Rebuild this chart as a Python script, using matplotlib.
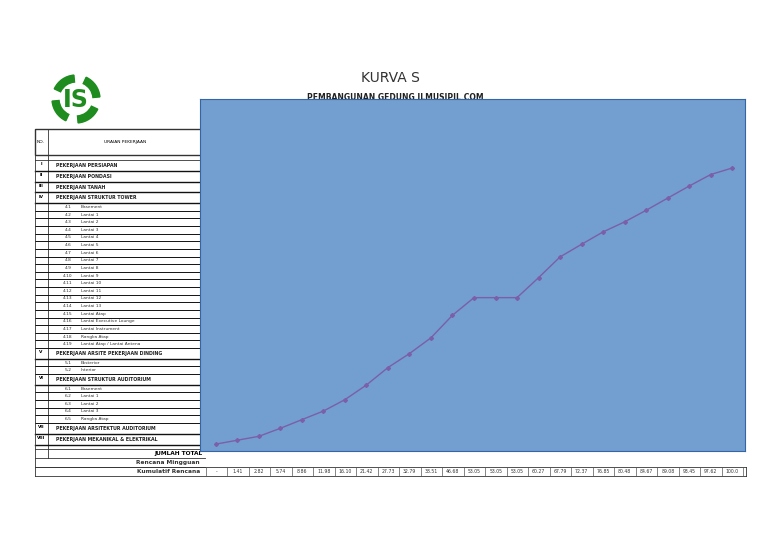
import matplotlib
matplotlib.use("Agg")
import matplotlib.pyplot as plt
from matplotlib.patches import Wedge, Rectangle

kumulatif = [0, 1.41, 2.82, 5.74, 8.86, 11.98, 16.10, 21.42, 27.73, 32.79, 38.51, 46.68,
             53.05, 53.05, 53.05, 60.27, 67.79, 72.37, 76.85, 80.48, 84.67, 89.08, 93.45, 97.62, 100.0]
kum_labels = ["-", "1.41", "2.82", "5.74", "8.86", "11.98", "16.10", "21.42", "27.73", "32.79", "38.51",
              "46.68", "53.05", "53.05", "53.05", "60.27", "67.79", "72.37", "76.85", "80.48", "84.67",
              "89.08", "93.45", "97.62", "100.0"]
rows = [("I", "PEKERJAAN PERSIAPAN", 1), ("II", "PEKERJAAN PONDASI", 1), ("III", "PEKERJAAN TANAH", 1),
        ("IV", "PEKERJAAN STRUKTUR TOWER", 1)]
sub4 = ["Basement", "Lantai 1", "Lantai 2", "Lantai 3", "Lantai 4", "Lantai 5", "Lantai 6", "Lantai 7",
        "Lantai 8", "Lantai 9", "Lantai 10", "Lantai 11", "Lantai 12", "Lantai 13", "Lantai Atap",
        "Lantai Executive Lounge", "Lantai Instrument", "Rangka Atap", "Lantai Atap / Lantai Antena"]
rows += [("4.%d" % (i + 1), s, 0) for i, s in enumerate(sub4)]
rows += [("V", "PEKERJAAN ARSITE PEKERJAAN DINDING", 1), ("5.1", "Eksterior", 0), ("5.2", "Interior", 0),
         ("VI", "PEKERJAAN STRUKTUR AUDITORIUM", 1)]
sub6 = ["Basement", "Lantai 1", "Lantai 2", "Lantai 3", "Rangka Atap"]
rows += [("6.%d" % (i + 1), s, 0) for i, s in enumerate(sub6)]
rows += [("VII", "PEKERJAAN ARSITEKTUR AUDITORIUM", 1), ("VIII", "PEKERJAAN MEKANIKAL & ELEKTRIKAL", 1)]

fig = plt.figure(figsize=(7.68, 5.43), dpi=100)
bg = fig.add_axes([0, 0, 1, 1])
bg.set_xlim(0, 768); bg.set_ylim(543, 0); bg.axis("off")

bg.text(390, 78, "KURVA S", ha="center", va="center", fontsize=10, color="#333")
bg.text(395, 98, "PEMBANGUNAN GEDUNG ILMUSIPIL.COM", ha="center", va="center", fontsize=5.5,
        fontweight="bold", color="#222")

# logo
for a in [25, 115, 205, 295]:
    bg.add_patch(Wedge((76, 99), 24, a, a + 60, width=7, color="#1e8c1e"))
bg.text(76, 100, "IS", ha="center", va="center", fontsize=17, fontweight="bold", color="#1e8c1e")

L, C, R = 35, 48, 205
lw = 0.6
bg.add_patch(Rectangle((L, 129), R - L, 26, fill=False, lw=1, ec="#333"))
bg.plot([C, C], [129, 458], color="#333", lw=lw)
bg.text(41, 142, "NO.", fontsize=3.2, ha="center", va="center")
bg.text(125, 142, "URAIAN PEKERJAAN", fontsize=3.2, ha="center", va="center")
y = 160
bg.plot([L, R], [y, y], color="#333", lw=lw)
for no, name, main in rows:
    h = 10.8 if main else 7.62
    y0 = y
    y = y0 + h
    bg.plot([L, R], [y, y], color="#111", lw=1.0 if main else 0.7)
    yc = (y0 + y) / 2
    if main:
        bg.text(41, yc - 1, no, fontsize=3.2, ha="center", va="center", fontweight="bold")
        bg.text(56, yc, name, fontsize=3.4, va="center", fontweight="bold", color="#222")
    else:
        bg.text(68, yc, no, fontsize=3.2, ha="center", va="center", color="#333")
        bg.text(81, yc, name, fontsize=3.2, va="center", color="#333")
for yy in [449, 458, 467]:
    bg.plot([L, R], [yy, yy], color="#333", lw=lw)
bg.text(202, 453.5, "JUMLAH TOTAL", fontsize=4.2, ha="right", va="center", fontweight="bold")
bg.plot([L, L], [129, 476], color="#333", lw=lw)
bg.text(200, 462.5, "Rencana Mingguan", fontsize=4.2, ha="right", va="center", fontweight="bold", color="#333")
bg.text(200, 471.5, "Kumulatif Rencana", fontsize=4.2, ha="right", va="center", fontweight="bold", color="#333")
x0, w = 205.5, 21.5
bg.plot([L, 746], [467, 467], color="#333", lw=lw)
bg.plot([L, 746], [476, 476], color="#333", lw=lw)
for i, lab in enumerate(kum_labels):
    bg.plot([x0 + i * w] * 2, [467, 476], color="#555", lw=0.5)
    bg.text(x0 + i * w + w / 2, 471.5, lab, fontsize=3.3, ha="center", va="center", color="#333")
bg.plot([x0 + 25 * w] * 2, [467, 476], color="#555", lw=0.5)
bg.plot([746, 746], [467, 476], color="#333", lw=lw)

ax = fig.add_axes([200 / 768, 1 - 451 / 543, 545 / 768, 352 / 543])
ax.set_facecolor("#729fcf")
ax.plot(range(len(kumulatif)), kumulatif, color="#7b5fa8", lw=1, marker="D", ms=2,
        mfc="#7b5fa8")
ax.set_xlim(-0.74, 24.6)
ax.set_ylim(-2.5, 125)
ax.set_xticks([]); ax.set_yticks([])
for s in ax.spines.values():
    s.set_color("#3465a4"); s.set_linewidth(0.8)

fig.savefig("out.png", dpi=100)
